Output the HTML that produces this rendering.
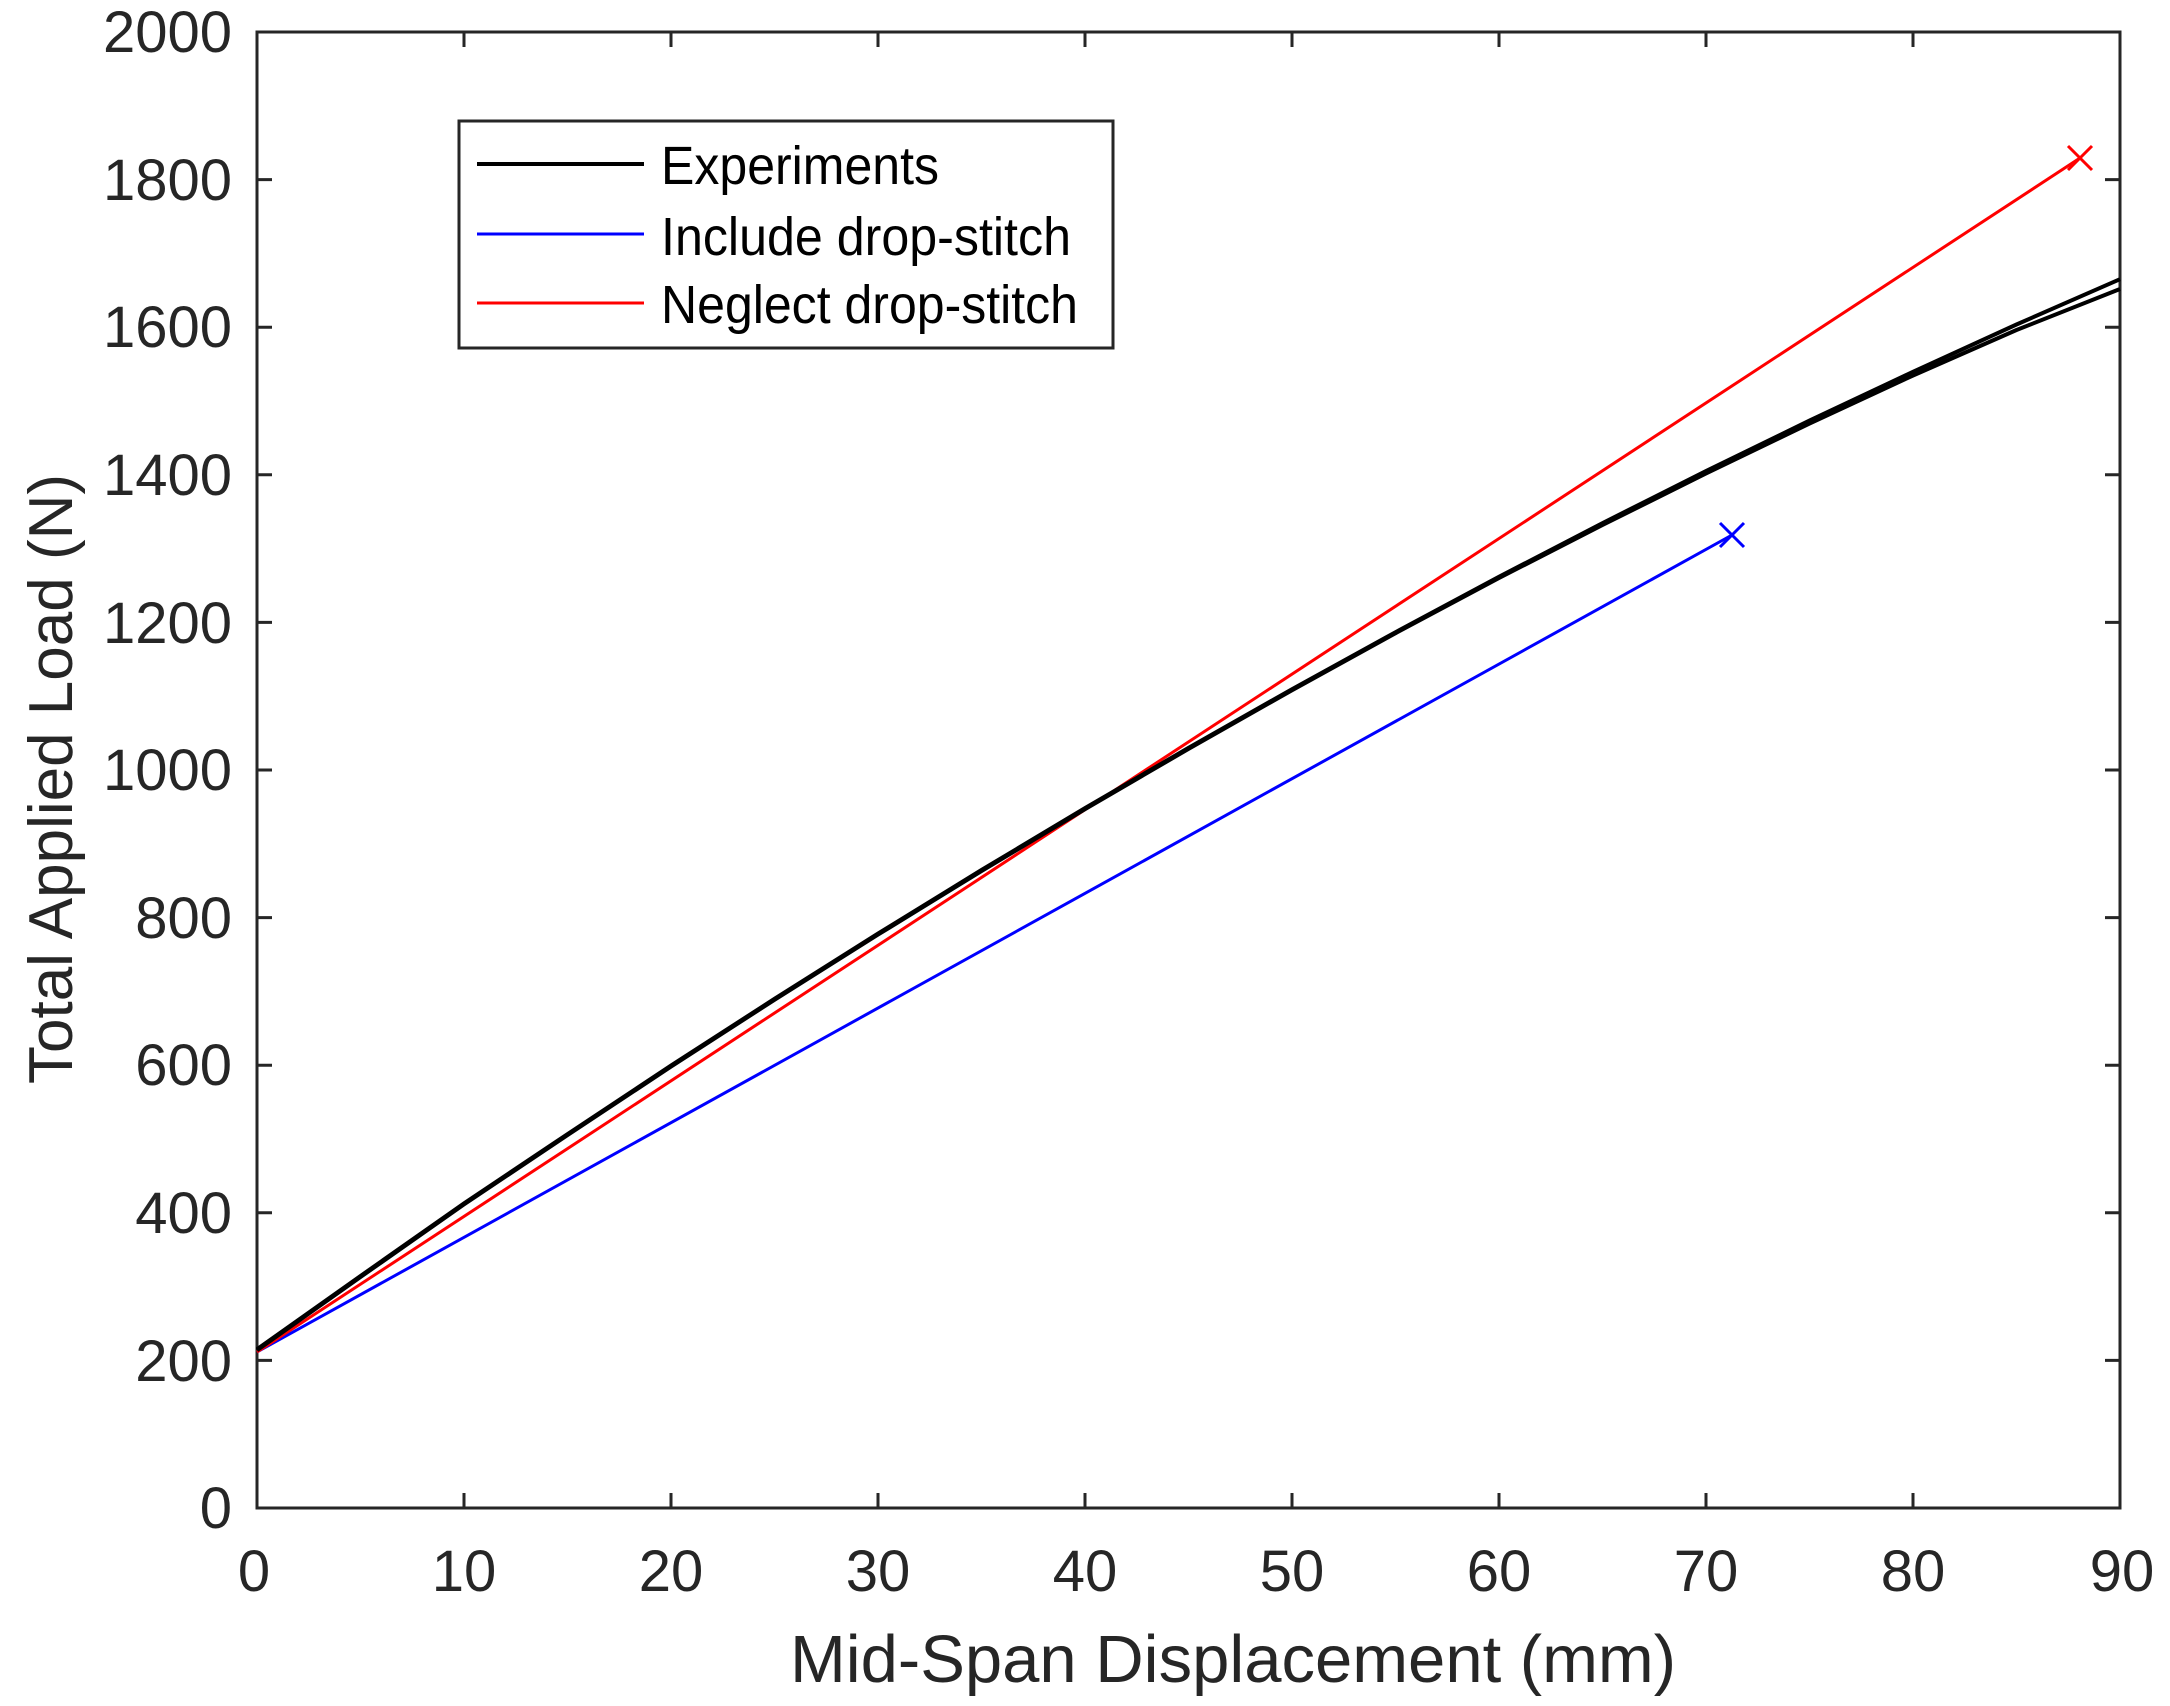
<!DOCTYPE html>
<html><head><meta charset="utf-8"><style>html,body{margin:0;padding:0;background:#fff}svg{display:block}</style></head>
<body>
<svg width="2170" height="1706" viewBox="0 0 2170 1706" xmlns="http://www.w3.org/2000/svg" font-family="Liberation Sans, Arial, sans-serif">
<rect width="2170" height="1706" fill="#fff"/>
<g stroke="#262626" stroke-width="3" fill="none">
<rect x="257" y="32" width="1863" height="1476"/>
<path d="M257 1360.4h15M257 1212.8h15M257 1065.2h15M257 917.6h15M257 770h15M257 622.4h15M257 474.8h15M257 327.2h15M257 179.6h15
M2120 1360.4h-15M2120 1212.8h-15M2120 1065.2h-15M2120 917.6h-15M2120 770h-15M2120 622.4h-15M2120 474.8h-15M2120 327.2h-15M2120 179.6h-15"/>
<path d="M464 1508v-15M671 1508v-15M878 1508v-15M1085 1508v-15M1292 1508v-15M1499 1508v-15M1706 1508v-15M1913 1508v-15
M464 32v15M671 32v15M878 32v15M1085 32v15M1292 32v15M1499 32v15M1706 32v15M1913 32v15"/>
</g>
<g font-size="58" fill="#262626" text-anchor="end">
<text x="232" y="1528">0</text><text x="232" y="1381">200</text><text x="232" y="1233">400</text><text x="232" y="1085">600</text><text x="232" y="938">800</text><text x="232" y="790">1000</text><text x="232" y="643">1200</text><text x="232" y="495">1400</text><text x="232" y="347">1600</text><text x="232" y="200">1800</text><text x="232" y="52">2000</text>
</g>
<g font-size="58" fill="#262626" text-anchor="middle">
<text x="254" y="1591">0</text><text x="464" y="1591">10</text><text x="671" y="1591">20</text><text x="878" y="1591">30</text><text x="1085" y="1591">40</text><text x="1292" y="1591">50</text><text x="1499" y="1591">60</text><text x="1706" y="1591">70</text><text x="1913" y="1591">80</text><text x="2122" y="1591">90</text>
</g>
<text x="1233" y="1682" font-size="67" fill="#262626" text-anchor="middle">Mid-Span Displacement (mm)</text>
<text transform="translate(72,779) rotate(-90)" font-size="62" fill="#262626" text-anchor="middle">Total Applied Load (N)</text>
<polyline fill="none" stroke="#0000ff" stroke-width="3" points="257,1352 1732,535"/>
<path d="M1720 523l24 24M1744 523l-24 24" stroke="#0000ff" stroke-width="3"/>
<polyline fill="none" stroke="#ff0000" stroke-width="3" points="257,1352 2080,158"/>
<path d="M2068 146l24 24M2092 146l-24 24" stroke="#ff0000" stroke-width="3"/>
<polyline fill="none" stroke="#000" stroke-width="4" stroke-linejoin="round" points="257,1349.3 360.5,1276 464,1203.4 567.5,1134.1 671,1065.6 774.5,998.8 878,933.6 981.5,870 1085,808.1 1188.5,747.9 1292,689.2 1395.5,632.2 1499,576.8 1602.5,523.1 1706,471 1809.5,420.6 1913,371.8 2016.5,324.5 2120,279.2"/>
<polyline fill="none" stroke="#000" stroke-width="4" stroke-linejoin="round" points="257,1350.3 360.5,1277 464,1204.4 567.5,1135.1 671,1066.6 774.5,999.8 878,934.6 981.5,871 1085,809.1 1188.5,748.9 1292,690.2 1395.5,633.2 1499,578 1602.5,525 1706,473.5 1809.5,423.6 1913,375.5 2016.5,330 2120,289"/>
<rect x="459" y="121" width="654" height="227" fill="#fff" stroke="#262626" stroke-width="3"/>
<line x1="477" y1="164" x2="644" y2="164" stroke="#000" stroke-width="4"/>
<line x1="477" y1="234" x2="644" y2="234" stroke="#0000ff" stroke-width="3"/>
<line x1="477" y1="303" x2="644" y2="303" stroke="#ff0000" stroke-width="3"/>
<g font-size="54" fill="#000">
<text x="661" y="184" textLength="278" lengthAdjust="spacingAndGlyphs">Experiments</text>
<text x="661" y="255" textLength="410" lengthAdjust="spacingAndGlyphs">Include drop-stitch</text>
<text x="661" y="323" textLength="417" lengthAdjust="spacingAndGlyphs">Neglect drop-stitch</text>
</g>
</svg>
</body></html>
